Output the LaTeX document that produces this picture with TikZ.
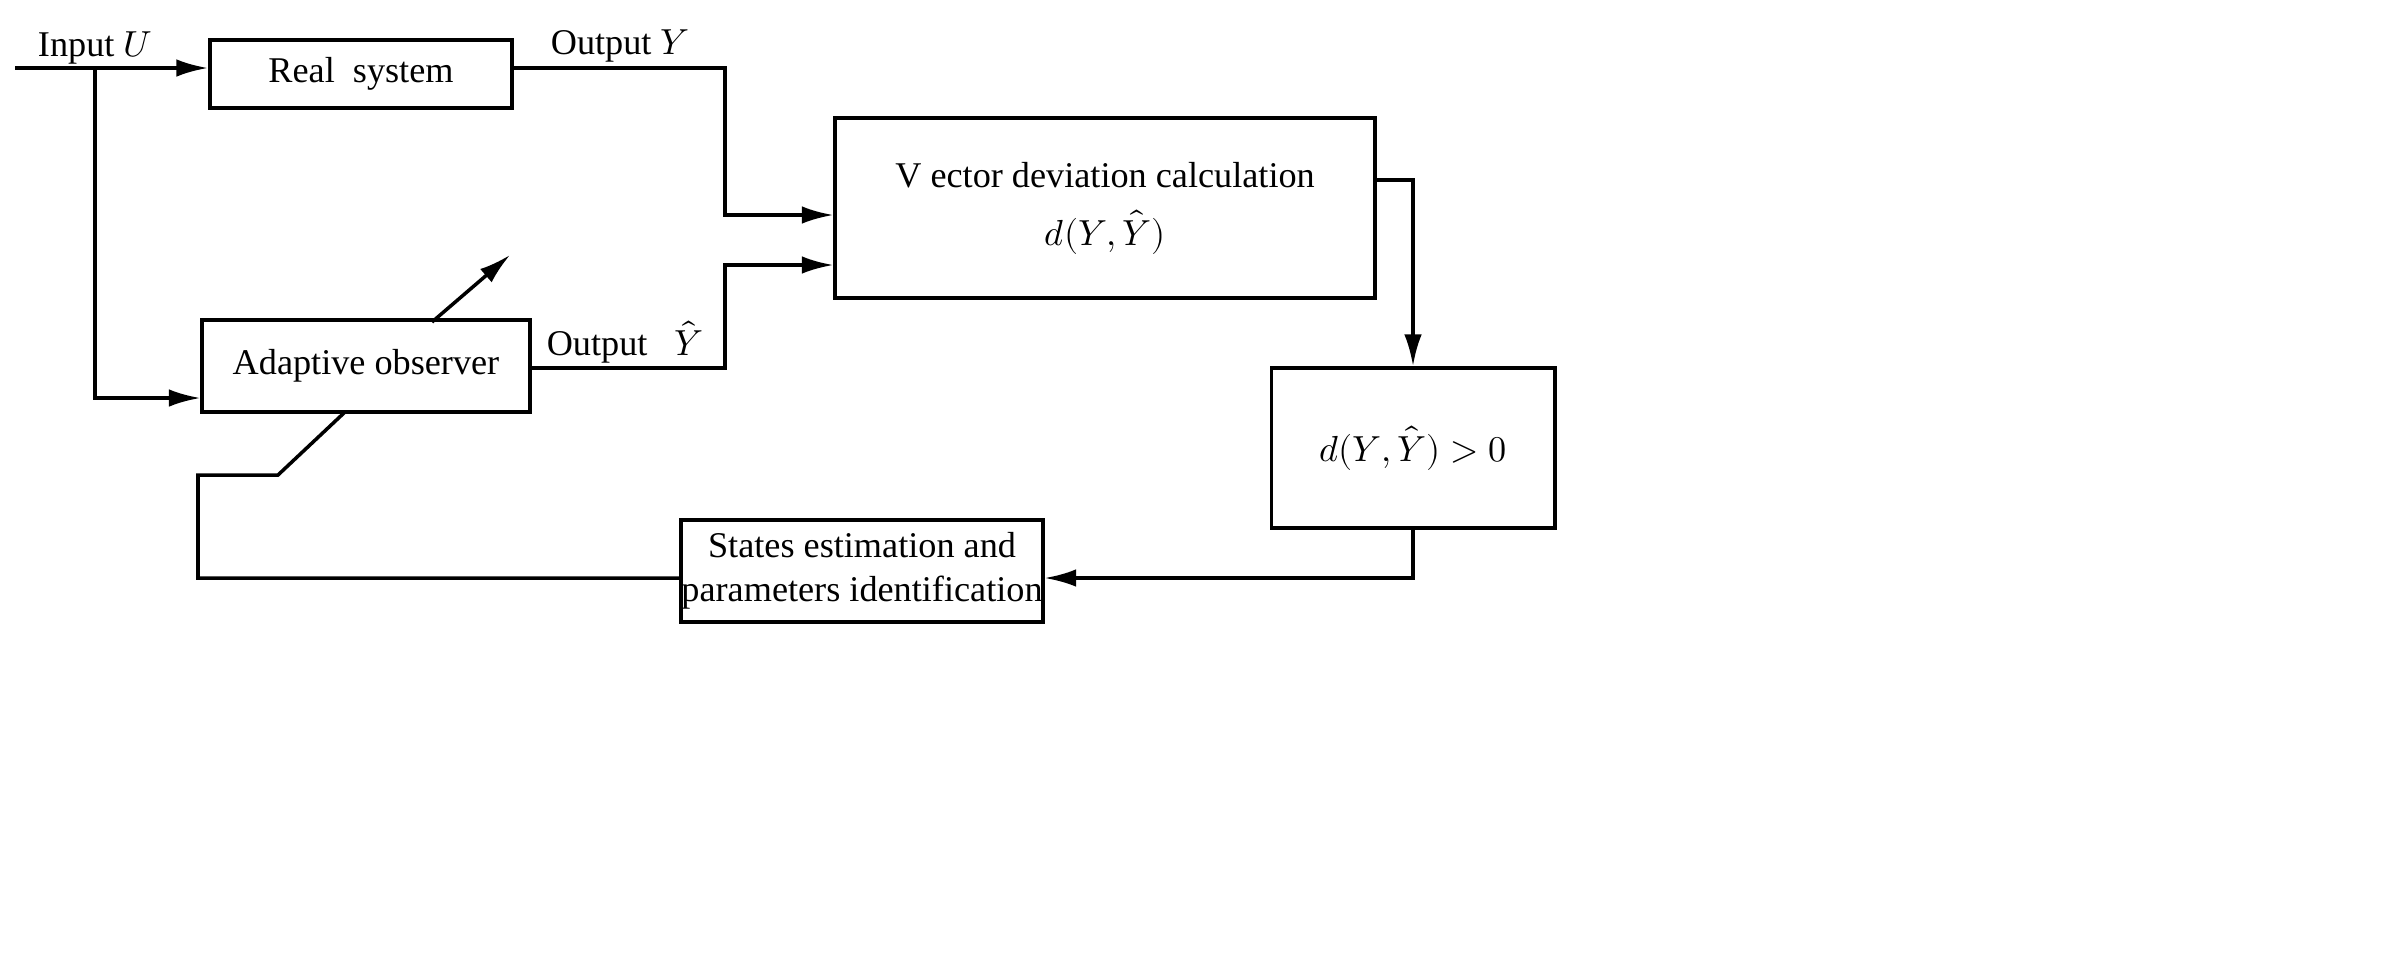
\documentclass[tikz,border=0pt]{standalone}
\usepackage{fontspec}
\setmainfont{Liberation Serif}
\usepackage{unicode-math}
\setmathfont{Latin Modern Math}
\usetikzlibrary{arrows.meta}
\begin{document}
\begin{tikzpicture}[x=0.01cm,y=-0.01cm,
  box/.style={draw,line width=1.1pt,inner sep=0pt,font=\fontsize{10.3}{12.5}\selectfont,align=center},
  ln/.style={line width=1pt},
  arr/.style={ln,-{Latex[length=9pt,width=5pt]}},
  lab/.style={font=\fontsize{10.3}{12.5}\selectfont}]
\useasboundingbox (0,0) rectangle (2391,978);
\node[box,minimum width=3.02cm,minimum height=0.68cm] (rs) at (361,74) {Real\ \ system};
\node[box,minimum width=3.27cm,minimum height=0.92cm] (ao) at (366,366) {Adaptive observer};
\node[box,minimum width=5.39cm,minimum height=1.80cm] (vd) at (1105,208) {V ector deviation calculation\\[4pt] $d(Y,\hat{Y})$};
\node[box,minimum width=2.83cm,minimum height=1.60cm] (dp) at (1413,448) {$d(Y,\hat{Y})>0$};
\node[box,minimum width=3.61cm,minimum height=1.02cm] (se) at (862,571) {States estimation and\\ parameters identification};
\coordinate (in) at (15,68);
\coordinate (br) at (95,68);
\draw[arr] (in) -- (rs.west|-in);
\draw[arr] (br) |- (ao.west|-0,398);
\node[lab] (lu) at (95,48) {Input $U$};
\draw[arr] (rs.east|-0,68) -- (725,68) |- (vd.west|-0,215);
\node[lab] (ly) at (620,46) {Output $Y$};
\draw[arr] (ao.east|-0,368) -- (725,368) |- (vd.west|-0,265);
\node[lab] (lyh) at (625,342) {Output\ \ \ $\hat{Y}$};
\draw[arr] (vd.east|-0,180) -- (1413,180) -- (dp.north);
\draw[arr] (dp.south) -- (1413,578) -- (se.east|-0,578);
\draw[ln] (se.west|-0,578) -- (198,578) -- (198,475) -- (278,475) -- (345,412);
\draw[arr] (432,322) -- (510,255);
\end{tikzpicture}
\end{document}
